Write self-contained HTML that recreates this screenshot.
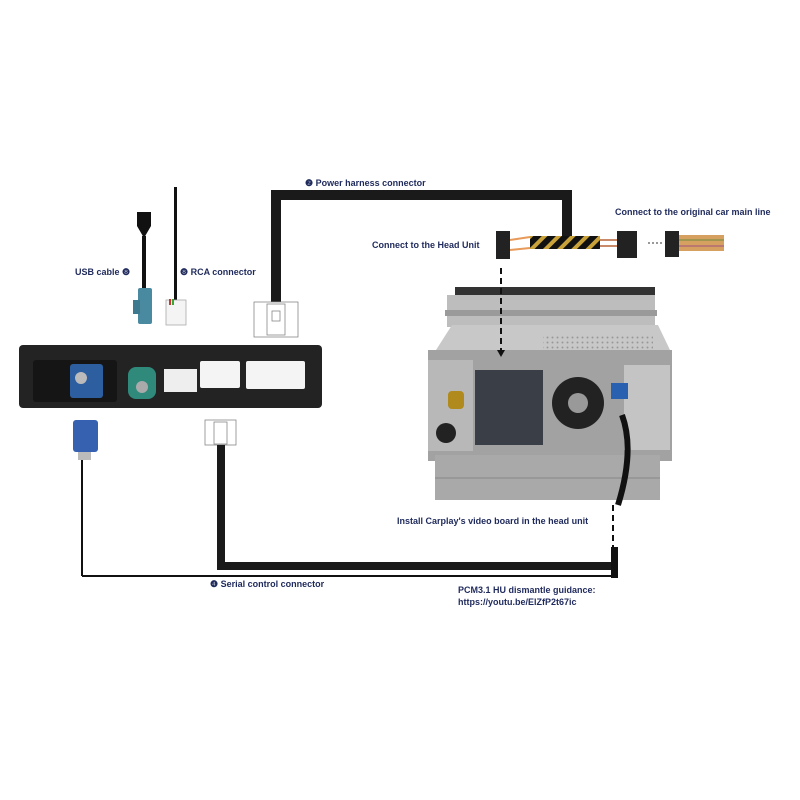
<!DOCTYPE html>
<html><head><meta charset="utf-8"><style>
body{margin:0;background:#fff}
svg{display:block}
text{font-family:"Liberation Sans",sans-serif;font-weight:bold;font-size:9px;fill:#1f2a5c}
</style></head><body>
<svg width="800" height="800" viewBox="0 0 800 800" xmlns="http://www.w3.org/2000/svg">
<defs>
<pattern id="stripe" width="10" height="10" patternUnits="userSpaceOnUse" patternTransform="rotate(45)">
<rect width="10" height="10" fill="#111"/><rect width="4" height="10" fill="#c9a23a"/>
</pattern>
<pattern id="dots" width="5" height="5" patternUnits="userSpaceOnUse"><circle cx="2.5" cy="2.5" r="1" fill="#777"/></pattern>
</defs>
<path d="M276 302 V195 H567 V240" fill="none" stroke="#1a1a1a" stroke-width="10"/>
<text x="305" y="186">❷ Power harness connector</text>
<rect x="254" y="302" width="44" height="35" fill="#fff" stroke="#888" stroke-width="0.8"/>
<rect x="267" y="304" width="18" height="31" fill="#fff" stroke="#888" stroke-width="0.8"/>
<rect x="272" y="311" width="8" height="10" fill="#fff" stroke="#888" stroke-width="0.8"/>
<rect x="137" y="212" width="14" height="14" fill="#111"/>
<path d="M137 226 L144 238 L151 226Z" fill="#111"/>
<rect x="142" y="236" width="4" height="56" fill="#111"/>
<rect x="138" y="288" width="14" height="36" rx="2" fill="#4a8aa0"/>
<rect x="133" y="300" width="7" height="14" fill="#3d7a90"/>
<rect x="174" y="187" width="3" height="115" fill="#111"/>
<rect x="166" y="300" width="20" height="25" fill="#f4f4f4" stroke="#aaa" stroke-width="0.8"/>
<rect x="169" y="299" width="2" height="6" fill="#c33"/><rect x="172" y="299" width="2" height="6" fill="#3a3"/>
<text x="75" y="275">USB cable ❽</text>
<text x="180" y="275">❽ RCA connector</text>
<rect x="19" y="345" width="303" height="63" rx="4" fill="#232323"/>
<rect x="33" y="360" width="84" height="42" rx="3" fill="#151515"/>
<rect x="70" y="364" width="33" height="34" rx="3" fill="#2d5fa0"/>
<circle cx="81" cy="378" r="6" fill="#bbb"/>
<rect x="128" y="367" width="28" height="32" rx="8" fill="#2f8a7c"/>
<circle cx="142" cy="387" r="6" fill="#aaa"/>
<rect x="164" y="369" width="33" height="23" fill="#eee"/>
<rect x="200" y="361" width="40" height="27" rx="2" fill="#f4f4f4"/>
<rect x="246" y="361" width="59" height="28" rx="2" fill="#f4f4f4"/>
<rect x="73" y="420" width="25" height="32" rx="3" fill="#3660b0"/>
<rect x="78" y="452" width="13" height="8" fill="#bbb"/>
<line x1="82" y1="460" x2="82" y2="576" stroke="#111" stroke-width="2"/>
<line x1="82" y1="576" x2="617" y2="576" stroke="#111" stroke-width="2"/>
<rect x="205" y="420" width="31" height="25" fill="#fff" stroke="#888" stroke-width="0.8"/>
<rect x="214" y="422" width="13" height="22" fill="#fff" stroke="#888" stroke-width="0.8"/>
<path d="M221 445 V566 H614" fill="none" stroke="#1a1a1a" stroke-width="8"/>
<rect x="611" y="547" width="7" height="31" fill="#111"/>
<text x="210" y="587">❹ Serial control connector</text>
<!-- head unit -->
<rect x="455" y="287" width="200" height="8" fill="#333"/>
<rect x="447" y="295" width="208" height="32" fill="#bdbdbd"/>
<rect x="445" y="310" width="212" height="6" fill="#9a9a9a"/>
<path d="M436 350 L452 325 H658 L670 350 Z" fill="#c8c8c8"/>
<rect x="543" y="335" width="110" height="16" fill="url(#dots)" opacity="0.6"/>
<rect x="428" y="350" width="244" height="111" fill="#a2a2a2"/>
<rect x="428" y="360" width="45" height="91" fill="#b8b8b8"/>
<rect x="624" y="365" width="46" height="85" fill="#c4c4c4"/>
<rect x="475" y="370" width="68" height="75" fill="#3a3e46"/>
<circle cx="578" cy="403" r="26" fill="#222"/>
<circle cx="578" cy="403" r="10" fill="#999"/>
<rect x="448" y="391" width="16" height="18" rx="4" fill="#b08a1c"/>
<circle cx="446" cy="433" r="10" fill="#222"/>
<rect x="611" y="383" width="17" height="16" fill="#2a60b0"/>
<rect x="435" y="455" width="225" height="45" fill="#a9a9a9"/>
<line x1="435" y1="478" x2="660" y2="478" stroke="#888"/>
<path d="M622 415 Q635 450 618 505" fill="none" stroke="#111" stroke-width="6"/>
<line x1="501" y1="268" x2="501" y2="350" stroke="#111" stroke-width="2" stroke-dasharray="6,4"/>
<path d="M497 350 L505 350 L501 357Z" fill="#111"/>
<line x1="613" y1="505" x2="613" y2="547" stroke="#111" stroke-width="2" stroke-dasharray="6,4"/>
<text x="397" y="524">Install Carplay's video board in the head unit</text>
<text x="458" y="593">PCM3.1 HU dismantle guidance:</text>
<text x="458" y="605">https://youtu.be/ElZfP2t67ic</text>
<path d="M510 240 L530 237 M510 250 L530 248" stroke="#e89a5a" stroke-width="2"/>
<rect x="496" y="231" width="14" height="28" fill="#222"/>
<rect x="530" y="236" width="70" height="13" fill="url(#stripe)"/>
<path d="M600 240 H617 M600 246 H617" stroke="#c98a6a" stroke-width="2"/>
<rect x="617" y="231" width="20" height="27" fill="#222"/>
<line x1="648" y1="243" x2="662" y2="243" stroke="#333" stroke-dasharray="2,2"/>
<rect x="665" y="231" width="14" height="26" fill="#222"/>
<rect x="679" y="235" width="45" height="16" fill="#d6a160"/>
<line x1="679" y1="240" x2="724" y2="240" stroke="#6a8a40"/>
<line x1="679" y1="246" x2="724" y2="246" stroke="#a05080"/>
<text x="372" y="248">Connect to the Head Unit</text>
<text x="615" y="215">Connect to the original car main line</text>
</svg>
</body></html>
